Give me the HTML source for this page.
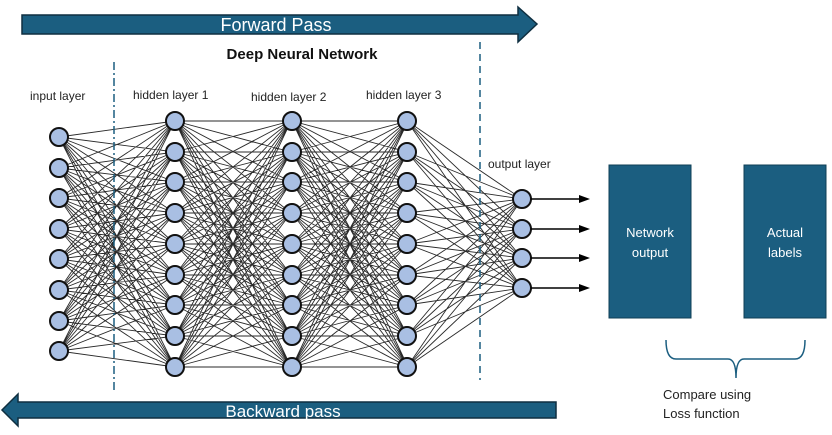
<!DOCTYPE html>
<html><head><style>
html,body{margin:0;padding:0;background:#fff;width:832px;height:435px;overflow:hidden}
</style></head><body>
<svg width="832" height="435" xmlns="http://www.w3.org/2000/svg" xmlns:xlink="http://www.w3.org/1999/xlink" font-family="Liberation Sans, sans-serif">
<defs>
<path id="hh" fill="none" d="
M0 121L116 121L0 121L116 152L0 121L116 182L0 121L116 213L0 121L116 244L0 121L116 275L0 121L116 305L0 121L116 336L0 121L116 367
M0 152L116 121L0 152L116 152L0 152L116 182L0 152L116 213L0 152L116 244L0 152L116 275L0 152L116 305L0 152L116 336L0 152L116 367
M0 182L116 121L0 182L116 152L0 182L116 182L0 182L116 213L0 182L116 244L0 182L116 275L0 182L116 305L0 182L116 336L0 182L116 367
M0 213L116 121L0 213L116 152L0 213L116 182L0 213L116 213L0 213L116 244L0 213L116 275L0 213L116 305L0 213L116 336L0 213L116 367
M0 244L116 121L0 244L116 152L0 244L116 182L0 244L116 213L0 244L116 244L0 244L116 275L0 244L116 305L0 244L116 336L0 244L116 367
M0 275L116 121L0 275L116 152L0 275L116 182L0 275L116 213L0 275L116 244L0 275L116 275L0 275L116 305L0 275L116 336L0 275L116 367
M0 305L116 121L0 305L116 152L0 305L116 182L0 305L116 213L0 305L116 244L0 305L116 275L0 305L116 305L0 305L116 336L0 305L116 367
M0 336L116 121L0 336L116 152L0 336L116 182L0 336L116 213L0 336L116 244L0 336L116 275L0 336L116 305L0 336L116 336L0 336L116 367
M0 367L116 121L0 367L116 152L0 367L116 182L0 367L116 213L0 367L116 244L0 367L116 275L0 367L116 305L0 367L116 336L0 367L116 367"/>
<g id="hcol">
<circle cx="0" cy="121" r="9"/><circle cx="0" cy="152" r="9"/><circle cx="0" cy="182" r="9"/><circle cx="0" cy="213" r="9"/><circle cx="0" cy="244" r="9"/><circle cx="0" cy="275" r="9"/><circle cx="0" cy="305" r="9"/><circle cx="0" cy="336" r="9"/><circle cx="0" cy="367" r="9"/>
</g>
</defs>
<g stroke="#2a2a2a" stroke-width="0.9" fill="none">
<path d="
M59 137L175 121L59 137L175 152L59 137L175 182L59 137L175 213L59 137L175 244L59 137L175 275L59 137L175 305L59 137L175 336L59 137L175 367
M59 168L175 121L59 168L175 152L59 168L175 182L59 168L175 213L59 168L175 244L59 168L175 275L59 168L175 305L59 168L175 336L59 168L175 367
M59 198L175 121L59 198L175 152L59 198L175 182L59 198L175 213L59 198L175 244L59 198L175 275L59 198L175 305L59 198L175 336L59 198L175 367
M59 229L175 121L59 229L175 152L59 229L175 182L59 229L175 213L59 229L175 244L59 229L175 275L59 229L175 305L59 229L175 336L59 229L175 367
M59 259L175 121L59 259L175 152L59 259L175 182L59 259L175 213L59 259L175 244L59 259L175 275L59 259L175 305L59 259L175 336L59 259L175 367
M59 290L175 121L59 290L175 152L59 290L175 182L59 290L175 213L59 290L175 244L59 290L175 275L59 290L175 305L59 290L175 336L59 290L175 367
M59 321L175 121L59 321L175 152L59 321L175 182L59 321L175 213L59 321L175 244L59 321L175 275L59 321L175 305L59 321L175 336L59 321L175 367
M59 351L175 121L59 351L175 152L59 351L175 182L59 351L175 213L59 351L175 244L59 351L175 275L59 351L175 305L59 351L175 336L59 351L175 367"/>
<use xlink:href="#hh" href="#hh" x="175"/>
<use xlink:href="#hh" href="#hh" x="292"/>
<path d="
M407 121L522 199L407 121L522 229L407 121L522 258L407 121L522 288
M407 152L522 199L407 152L522 229L407 152L522 258L407 152L522 288
M407 182L522 199L407 182L522 229L407 182L522 258L407 182L522 288
M407 213L522 199L407 213L522 229L407 213L522 258L407 213L522 288
M407 244L522 199L407 244L522 229L407 244L522 258L407 244L522 288
M407 275L522 199L407 275L522 229L407 275L522 258L407 275L522 288
M407 305L522 199L407 305L522 229L407 305L522 258L407 305L522 288
M407 336L522 199L407 336L522 229L407 336L522 258L407 336L522 288
M407 367L522 199L407 367L522 229L407 367L522 258L407 367L522 288"/>
</g>
<g fill="#a9bfe3" stroke="#111" stroke-width="2">
<circle cx="59" cy="137" r="9"/><circle cx="59" cy="168" r="9"/><circle cx="59" cy="198" r="9"/><circle cx="59" cy="229" r="9"/><circle cx="59" cy="259" r="9"/><circle cx="59" cy="290" r="9"/><circle cx="59" cy="321" r="9"/><circle cx="59" cy="351" r="9"/>
<use xlink:href="#hcol" href="#hcol" x="175"/>
<use xlink:href="#hcol" href="#hcol" x="292"/>
<use xlink:href="#hcol" href="#hcol" x="407"/>
<circle cx="522" cy="199" r="9"/><circle cx="522" cy="229" r="9"/><circle cx="522" cy="258" r="9"/><circle cx="522" cy="288" r="9"/>
</g>
<g stroke="#000" stroke-width="1.5">
<line x1="531" y1="199" x2="581" y2="199"/><line x1="531" y1="229" x2="581" y2="229"/><line x1="531" y1="258" x2="581" y2="258"/><line x1="531" y1="288" x2="581" y2="288"/>
</g>
<g fill="#000">
<polygon points="579,195 590,199 579,203"/><polygon points="579,225 590,229 579,233"/><polygon points="579,254 590,258 579,262"/><polygon points="579,284 590,288 579,292"/>
</g>
<polygon points="22,15 518,15 518,7 537,24 518,42 518,34 22,34" fill="#1b5e80" stroke="#0f2f40" stroke-width="1.5"/>
<text x="276" y="31" text-anchor="middle" font-size="18" fill="#fff">Forward Pass</text>
<polygon points="556,402 18,402 18,394 2,410 18,426 18,418 556,418" fill="#1b5e80" stroke="#0f2f40" stroke-width="1.5"/>
<text x="283" y="417" text-anchor="middle" font-size="17" fill="#fff">Backward pass</text>
<line x1="114" y1="62" x2="114" y2="392" stroke="#1b5e80" stroke-width="1.5" stroke-dasharray="8,3,2,3"/>
<line x1="480" y1="42" x2="480" y2="380" stroke="#1b5e80" stroke-width="1.5" stroke-dasharray="7,5"/>
<text x="302" y="59" text-anchor="middle" font-size="15" font-weight="bold" fill="#111">Deep Neural Network</text>
<g font-size="12" fill="#222">
<text x="30" y="100">input layer</text>
<text x="133" y="99">hidden layer 1</text>
<text x="251" y="101">hidden layer 2</text>
<text x="366" y="99">hidden layer 3</text>
<text x="488" y="168">output layer</text>
</g>
<rect x="609" y="165" width="82" height="153" fill="#1b5e80" stroke="#0f3f56"/>
<rect x="744" y="165" width="82" height="153" fill="#1b5e80" stroke="#0f3f56"/>
<g font-size="13" fill="#fff" text-anchor="middle">
<text x="650" y="237">Network</text><text x="650" y="257">output</text>
<text x="785" y="237">Actual</text><text x="785" y="257">labels</text>
</g>
<path d="M666,340 Q666,359 676,359 L728,359 Q736,359 736,378 Q736,359 744,359 L795,359 Q805,359 805,340" fill="none" stroke="#1b5e80" stroke-width="1.5"/>
<g font-size="13" fill="#222">
<text x="663" y="399">Compare using</text>
<text x="663" y="418">Loss function</text>
</g>
</svg>
</body></html>
